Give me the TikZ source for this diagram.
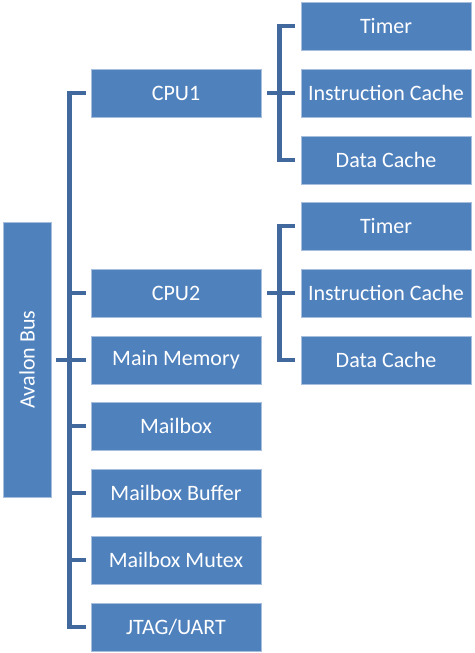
\documentclass[tikz,border=0pt]{standalone}
\usepackage{fontspec}
\setmainfont{Carlito}
\usetikzlibrary{calc}
\definecolor{boxblue}{HTML}{4F81BD}
\definecolor{edgeblue}{HTML}{A7BEDC}
\definecolor{lineblue}{HTML}{41699D}
\tikzset{
  blk/.style={rectangle, fill=boxblue, draw=edgeblue, line width=0.8pt,
    minimum width=170pt, minimum height=48pt, inner sep=1pt, text=white,
    font=\fontsize{22}{26}\selectfont},
  conn/.style={draw=lineblue, line width=4.5pt, line cap=butt, line join=miter}
}
\begin{document}
\begin{tikzpicture}[x=1pt,y=-1pt]
\useasboundingbox (0,0) rectangle (474,653);
% left column
\node[blk] (cpu1) at (176,93) {CPU1};
\node[blk] (cpu2) at (176,293) {CPU2};
\node[blk] (mem) at (176,360) {Main Memory};
\node[blk] (mbox) at (176,426) {Mailbox};
\node[blk] (mbuf) at (176,493) {Mailbox Buffer};
\node[blk] (mmut) at (176,560) {Mailbox Mutex};
\node[blk] (jtag) at (176,627) {JTAG/UART};
% avalon bus
\node[blk, minimum width=48pt, minimum height=275pt] (bus) at (27,359.5) {\rotatebox{90}{Avalon Bus}};
% right column group 1
\node[blk] (tim1) at (386,26) {Timer};
\node[blk] (ic1) at (386,93) {Instruction Cache};
\node[blk] (dc1) at (386,160) {Data Cache};
% right column group 2
\node[blk] (tim2) at (386,226) {Timer};
\node[blk] (ic2) at (386,293) {Instruction Cache};
\node[blk] (dc2) at (386,360) {Data Cache};
% main bus line
\coordinate (bx) at ($(cpu1.west)+(-21,0)$);
\draw[conn] ([xshift=-5pt]cpu1.west) -| (bx) |- ([xshift=-5pt]jtag.west);
\foreach \n in {cpu2,mem,mbox,mbuf,mmut}{
  \draw[conn] (bx |- \n.west) -- ([xshift=-5pt]\n.west);
}
\draw[conn] ([xshift=5pt]bus.east |- mem.west) -- (bx |- mem.west);
% right trees
\coordinate (rx1) at ($(ic1.west)+(-21,0)$);
\draw[conn] ([xshift=6pt]cpu1.east) -- ([xshift=-6pt]ic1.west);
\draw[conn] ([xshift=-6pt]tim1.west) -| (rx1) |- ([xshift=-6pt]dc1.west);
\coordinate (rx2) at ($(ic2.west)+(-21,0)$);
\draw[conn] ([xshift=6pt]cpu2.east) -- ([xshift=-6pt]ic2.west);
\draw[conn] ([xshift=-6pt]tim2.west) -| (rx2) |- ([xshift=-6pt]dc2.west);
\end{tikzpicture}
\end{document}
